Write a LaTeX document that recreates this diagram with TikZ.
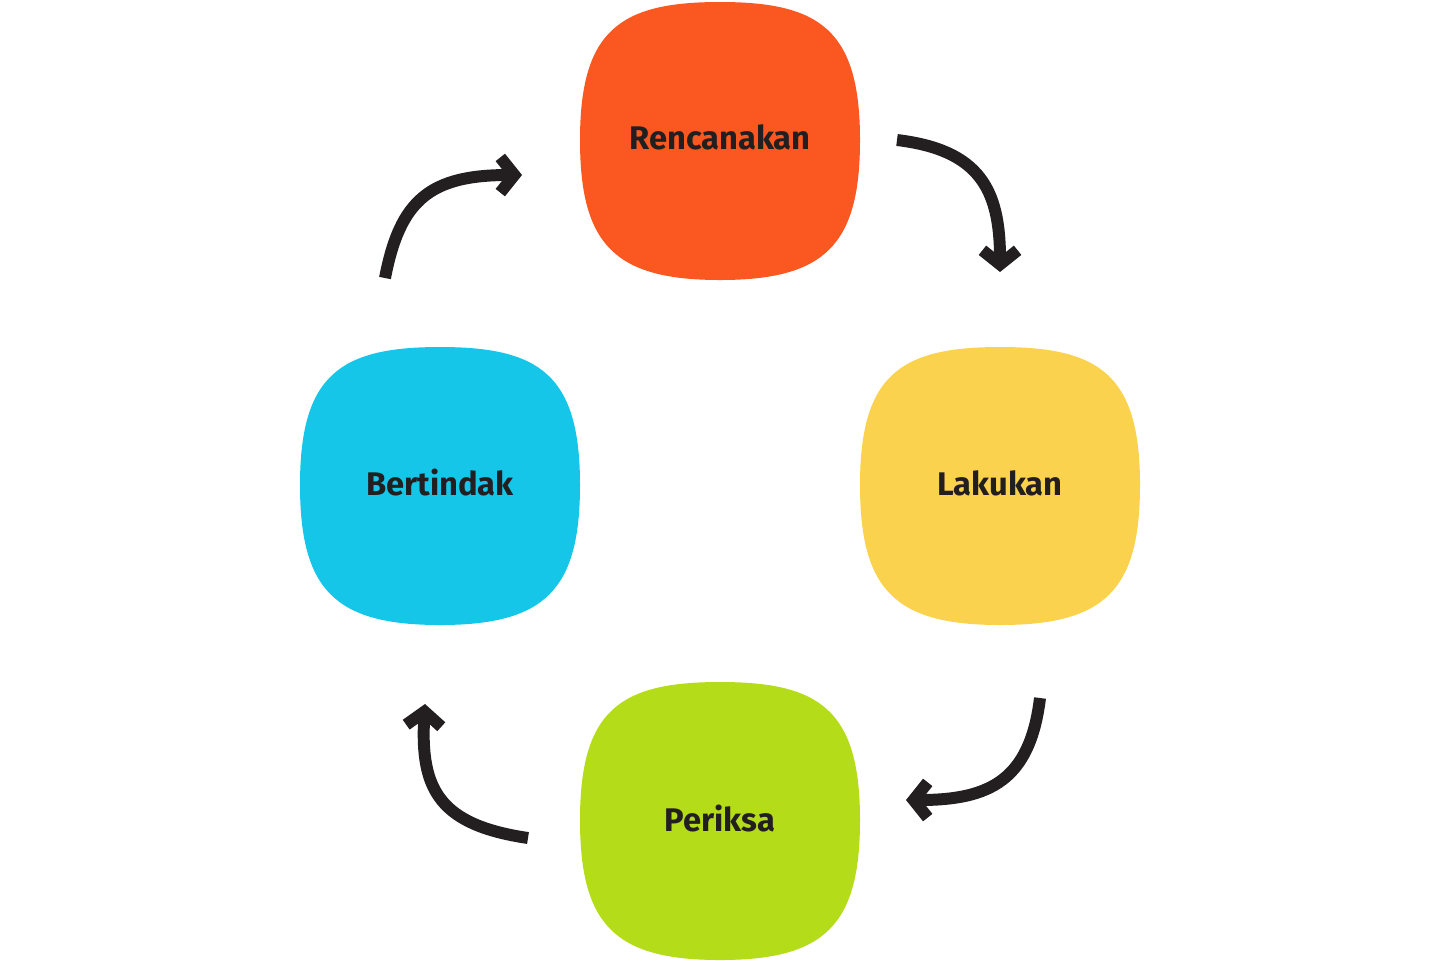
\documentclass[tikz,border=0pt]{standalone}
\usepackage{fontspec}
\setmainfont{Fira Sans}
\usetikzlibrary{arrows.meta}
\definecolor{cOr}{HTML}{FA5820}
\definecolor{cYe}{HTML}{FBD24E}
\definecolor{cCy}{HTML}{16C6E9}
\definecolor{cGr}{HTML}{B4DC19}
\definecolor{ink}{HTML}{231F20}
\begin{document}
\begin{tikzpicture}[x=0.01cm,y=-0.01cm,
  lbl/.style={font=\fontsize{9.3pt}{11pt}\selectfont\bfseries, text=ink},
  arr/.style={draw=ink, line width=3.4pt, -{Straight Barb[length=4pt,width=10pt,line width=3.4pt]}}]
\useasboundingbox (0,0) rectangle (1440,960);
\newcommand{\blob}[3]{%
  \fill[#3] (#1-140,#2) .. controls (#1-140,#2-110) and (#1-100,#2-138) .. (#1,#2-138)
    .. controls (#1+100,#2-138) and (#1+140,#2-110) .. (#1+140,#2)
    .. controls (#1+140,#2+105) and (#1+105,#2+140) .. (#1,#2+140)
    .. controls (#1-105,#2+140) and (#1-140,#2+105) .. (#1-140,#2) -- cycle;}
\blob{720}{140}{cOr}
\blob{1000}{485}{cYe}
\blob{440}{485}{cCy}
\blob{720}{820}{cGr}
\node[lbl] (plan) at (720,137) {Rencanakan};
\node[lbl] (do) at (1000,483) {Lakukan};
\node[lbl] (act) at (440,483) {Bertindak};
\node[lbl] (check) at (720,818) {Periksa};
\coordinate (a1s) at (897,140); \coordinate (a1e) at (1000,272);
\coordinate (a2s) at (1040,698); \coordinate (a2e) at (906,800);
\coordinate (a3s) at (528,838); \coordinate (a3e) at (425,704);
\coordinate (a4s) at (385,278); \coordinate (a4e) at (522,175);
\draw[arr] (a1s) .. controls (980,150) and (1000,190) .. (a1e);
\draw[arr] (a2s) .. controls (1030,780) and (990,800) .. (a2e);
\draw[arr] (a3s) .. controls (440,825) and (420,790) .. (a3e);
\draw[arr] (a4s) .. controls (400,200) and (430,175) .. (a4e);
\end{tikzpicture}
\end{document}
